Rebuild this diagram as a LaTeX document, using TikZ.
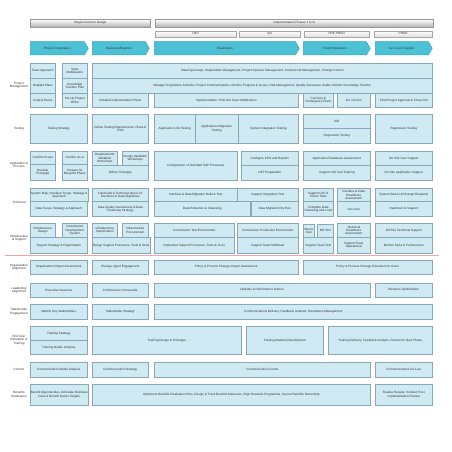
\documentclass[tikz,border=0pt]{standalone}
\usepackage{fontspec}
\setmainfont{Liberation Sans}
\usetikzlibrary{shapes.symbols}
\definecolor{boxfill}{HTML}{CFEAF3}
\definecolor{boxline}{HTML}{87A8B6}
\definecolor{phasefill}{HTML}{4CC1D6}
\definecolor{phaseline}{HTML}{3AA3B8}
\definecolor{inktext}{HTML}{333333}
\definecolor{splitline}{HTML}{EBA7A7}

\begin{document}
\begin{tikzpicture}[x=1bp, y=-1bp, font=\fontsize{3.1}{3.45}\selectfont,
    task/.style 2 args={draw=boxline, fill=boxfill, line width=0.55bp, anchor=north west,
      minimum width=#1bp, minimum height=#2bp, inner sep=0.5bp, align=center, text=inktext},
    phase/.style={shape=signal, signal to=east, signal pointer angle=120, draw=phaseline,
      fill=phasefill, line width=0.5bp, anchor=west, minimum height=13.3bp, minimum width=#1bp,
      inner sep=0pt, text=inktext},
    track/.style 2 args={draw=black!40, top color=white, bottom color=black!30, line width=0.4bp,
      anchor=north west, minimum width=#1bp, minimum height=#2bp, inner sep=0pt, text=inktext},
    subtrack/.style={draw=black!35, top color=white, bottom color=black!12, line width=0.4bp,
      anchor=north west, minimum width=#1bp, minimum height=6bp, inner sep=0pt, text=inktext},
    lane/.style={anchor=center, align=center, text=inktext}]
  \useasboundingbox (0,0) rectangle (452,452);%

  % phases along the top
  \node[track={120}{7.4}] (scdbar) at (30,19.3) {Single Common Design};%
  \node[track={278}{7.4}] (implbar) at (155,19.3) {Implementation Phases 1 to N};%
  \node[subtrack=81] (devbar) at (155,30.7) {DEV};%
  \node[subtrack=61] (qabar) at (239,30.7) {QA};%
  \node[subtrack=65] (preprodbar) at (304,30.7) {PRE-PROD};%
  \node[subtrack=58] (prodbar) at (374,30.7) {PROD};%
  \node[phase=58] (prep) at (30,48.35) {Project Preparation};%
  \node[phase=57] (blueprint) at (92,48.35) {Business Blueprint};%
  \node[phase=145] (realisation) at (154,48.35) {Realisation};%
  \node[phase=67] (finalprep) at (303,48.35) {Final Preparation};%
  \node[phase=57] (golive) at (375,48.35) {Go Live \& Support};%

  % row labels
  \node[lane] (lblpm) at (19,85) {Project\\Management};%
  \node[lane] (lbltest) at (19,128.5) {Testing};%
  \node[lane] (lblapp) at (19,165) {Application \&\\Process};%
  \node[lane] (lbltech) at (19,202) {Technical};%
  \node[lane] (lblinfra) at (19,238) {Infrastructure\\\& Support};%
  \node[lane] (lblorg) at (19,267) {Organisation\\Alignment};%
  \node[lane] (lbllead) at (19,290) {Leadership\\Alignment};%
  \node[lane] (lblstake) at (19,311.5) {Stakeholder\\Engagement};%
  \node[lane] (lbluser) at (19,340) {End User\\Education \&\\Training};%
  \node[lane] (lblcomms) at (19,369.4) {Comms};%
  \node[lane] (lblbenefit) at (19,394.5) {Benefits\\Realisation};%

  % project management
  \node[task={25}{15.3}] (teamapproach) at (30,63) {Team Approach};%
  \node[task={25}{15.3}] (teammob) at (62,63) {Team\\Mobilisation};%
  \node[task={25}{14.4}] (detplans) at (30,78.3) {Detailed Plans};%
  \node[task={25}{14.4}] (ktplan) at (62,78.3) {Knowledge\\Transfer Plan};%
  \node[task={25}{14.6}] (coderules) at (30,92.7) {Code \& Rules};%
  \node[task={25}{14.6}] (projoffice) at (62,92.7) {Set Up Project\\Office};%
  \node[task={340}{15.3}] (steering) at (92,63) {Steering Groups, Stakeholder Management, Project Sponsor Management, Commercial Management, Change Control};%
  \node[task={340}{14.4}] (manage) at (92,78.3) {Manage Programme Activities, Project Communications, Monitor Progress \& Issues, Risk Management, Quality Assurance Audits, Monitor Knowledge Transfer};%
  \node[task={56}{14.6}] (detimpl) at (92,92.7) {Detailed Implementation Plans};%
  \node[task={144}{14.6}] (rollout) at (154,92.7) {Implementation / Roll-Out Team Mobilisation};%
  \node[task={30}{14.6}] (cutoverplans) at (303,92.7) {Cut-Over \&\\Contingency Plans};%
  \node[task={33}{14.6}] (gonogo) at (337,92.7) {Go / No Go};%
  \node[task={57}{14.6}] (closeout) at (375,92.7) {Final Project Approval \& Close Out};%

  % testing
  \node[task={57}{29}] (teststrat) at (30,114) {Testing Strategy};%
  \node[task={56}{29}] (definetest) at (92,114) {Define Testing Requirements, Plans \&\\Tools};%
  \node[task={41}{29}] (unittest) at (154,114) {Application Unit Testing};%
  \node[task={43}{29}] (inttest) at (195,114) {Application Integration\\Testing};%
  \node[task={60}{29}] (systest) at (238,114) {System Integration Testing};%
  \node[task={67}{14.5}] (uat) at (303,114) {UAT};%
  \node[task={67}{14.5}] (regtest) at (303,128.5) {Regression Testing};%
  \node[task={57}{29}] (regtestlive) at (375,114) {Regression Testing};%

  % application & process
  \node[task={25}{13.3}] (confscope) at (30,150.7) {Confirm Scope};%
  \node[task={25}{15.7}] (devproto) at (30,164) {Develop\\Prototype};%
  \node[task={25}{13.3}] (confasis) at (62,150.7) {Confirm As-is};%
  \node[task={25}{15.7}] (prepbp) at (62,164) {Prepare for\\Blueprint Phase};%
  \node[task={25}{14.6}] (reqval) at (92,150.7) {Requirements\\Validation\\Workshops};%
  \node[task={26}{14.6}] (desval) at (122,150.7) {Design Validation\\Workshops};%
  \node[task={56}{14.4}] (refproto) at (92,165.3) {Refine Prototype};%
  \node[task={83}{29}] (configsap) at (154,150.7) {Configuration of Standard SAP Processes};%
  \node[task={57}{14.6}] (configkpi) at (241,150.7) {Configure KPIs and Reports};%
  \node[task={57}{14.4}] (uatprep) at (241,165.3) {UAT Preparation};%
  \node[task={67}{14.6}] (appready) at (303,150.7) {Application Readiness Assessment};%
  \node[task={67}{14.4}] (supuat) at (303,165.3) {Support UAT and Training};%
  \node[task={57}{14.6}] (onsiteuser) at (375,150.7) {On-Site User Support};%
  \node[task={57}{14.4}] (onsiteapp) at (375,165.3) {On-Site Application Support};%

  % technical
  \node[task={57}{13.5}] (sysmap) at (30,188) {System Map, Interface Scope, Strategy \&\\Approach};%
  \node[task={57}{14.8}] (datascope) at (30,201.5) {Data Scope, Strategy \& Approach};%
  \node[task={56}{13.5}] (funcspecs) at (92,188) {Functional \& Technical Specs for\\Interfaces \& Data Migrations};%
  \node[task={56}{14.8}] (dataqual) at (92,201.5) {Data Quality Assessment \& Data\\Cleansing Strategy};%
  \node[task={83}{13.5}] (ifbuild) at (154,188) {Interface \& Data Migration Build \& Test};%
  \node[task={61}{13.5}] (supint) at (237,188) {Support Integration Test};%
  \node[task={96}{14.8}] (dataext) at (154,201.5) {Data Extraction \& Cleansing};%
  \node[task={47}{14.8}] (dryrun) at (251,201.5) {Data Migration Dry Run};%
  \node[task={30}{13.5}] (supuatstress) at (303,188) {Support UAT \&\\Stress Tests};%
  \node[task={30}{14.8}] (cleanload) at (303,201.5) {Complete Data\\Cleansing and Load};%
  \node[task={33}{13.5}] (ifready) at (337,188) {Interface \& Data\\Readiness\\Assessment};%
  \node[task={33}{14.8}] (cutover) at (337,201.5) {Cut-Over};%
  \node[task={57}{13.5}] (bedin) at (375,188) {System Bed-In \& Change Requests};%
  \node[task={57}{14.8}] (handover) at (375,201.5) {Handover to Support};%

  % infrastructure & support
  \node[task={25}{14.3}] (infdesign) at (30,223) {Infrastructure\\Design};%
  \node[task={25}{14.3}] (commdev) at (62,223) {Commission\\Development\\System};%
  \node[task={57}{15.7}] (supstrat) at (30,237.3) {Support Strategy \& Organisation};%
  \node[task={25}{14.3}] (infspec) at (92,223) {Infrastructure\\Specification};%
  \node[task={26}{14.3}] (infproc) at (122,223) {Infrastructure\\Procurement};%
  \node[task={56}{15.7}] (designsup) at (92,237.3) {Design Support Processes, Tools \& SLAs};%
  \node[task={80}{14.3}] (commtest) at (154,223) {Commission Test Environment};%
  \node[task={80}{15.7}] (implsup) at (154,237.3) {Implement Support Processes, Tools \& SLAs};%
  \node[task={61}{14.3}] (commprod) at (237,223) {Commission Production Environment};%
  \node[task={61}{15.7}] (supmob) at (237,237.3) {Support Team Mobilised};%
  \node[task={11}{13.3}] (stresstest) at (303,224) {Stress\\Test};%
  \node[task={16}{13.3}] (drtest) at (317,224) {DR Test};%
  \node[task={33}{14.3}] (techready) at (337,223) {Technical\\Readiness\\Assessment};%
  \node[task={30}{15.7}] (supteamtest) at (303,237.3) {Support Team Test};%
  \node[task={33}{15.7}] (supteamop) at (337,237.3) {Support Team\\Operational};%
  \node[task={57}{14.3}] (offsite) at (375,223) {Off-Site Technical Support};%
  \node[task={57}{15.7}] (monitorsla) at (375,237.3) {Monitor SLAs \& Performance};%

  % split between the delivery and the change streams
  \coordinate (splitL) at (5,255.5);%
  \coordinate (splitR) at (439,255.5);%
  \draw[splitline, line width=0.6bp] (splitL) -- (splitR);%

  % organisation alignment
  \node[task={57}{14.3}] (orgimpact) at (30,259.7) {Organisation Impact Assessment};%
  \node[task={56}{14.3}] (changeagent) at (92,259.7) {Change Agent Engagement};%
  \node[task={144}{14.3}] (policyimpact) at (154,259.7) {Policy \& Process Change Impact Assessment};%
  \node[task={129}{14.3}] (policyedu) at (303,259.7) {Policy \& Process Change Education for Users};%

  % leadership alignment
  \node[task={57}{13.7}] (execsess) at (30,283) {Executive Sessions};%
  \node[task={56}{13.7}] (perfscore) at (92,283) {Performance Scorecards};%
  \node[task={216}{13.7}] (updates) at (154,283) {Updates \& Performance Metrics};%
  \node[task={57}{13.7}] (busopt) at (375,283) {Business Optimisation};%

  % stakeholder engagement
  \node[task={57}{14.4}] (identify) at (30,304.3) {Identify Key Stakeholders};%
  \node[task={56}{14.4}] (stakestrat) at (92,304.3) {Stakeholder Strategy};%
  \node[task={278}{14.4}] (commdelivery) at (154,304.3) {Communications Delivery, Feedback Analysis, Resistance Management};%

  % end user education & training
  \node[task={57}{14}] (trainstrat) at (30,326) {Training Strategy};%
  \node[task={57}{14.3}] (trainneeds) at (30,340) {Training Needs Analysis};%
  \node[task={149}{28.3}] (traindesign) at (92,326) {Training Design \& Prototype};%
  \node[task={77}{28.3}] (trainmat) at (246,326) {Training Material Development};%
  \node[task={104}{28.3}] (traindelivery) at (328,326) {Training Delivery, Feedback Analysis, Review for Next Phase};%

  % comms
  \node[task={57}{14.7}] (commmedia) at (30,362) {Communication Media Analysis};%
  \node[task={56}{14.7}] (commstrat) at (92,362) {Communication Strategy};%
  \node[task={216}{14.7}] (commevents) at (154,362) {Communication Events};%
  \node[task={57}{14.7}] (commgolive) at (375,362) {Communications Go-Live};%

  % benefits realisation
  \node[task={57}{21.6}] (benefitopp) at (30,383.7) {Benefit Opportunities, Articulate Business\\Case \& Benefit Owner Targets};%
  \node[task={278}{21.6}] (implbenefits) at (92,383.7) {Implement Benefits Realisation Plan, Design \& Track Benefits Measures, Align Rewards Programme, Secure Benefits Ownership};%
  \node[task={57}{21.6}] (realise) at (375,383.7) {Realise Results, Conduct Post\\Implementation Review};%
\end{tikzpicture}
\end{document}
